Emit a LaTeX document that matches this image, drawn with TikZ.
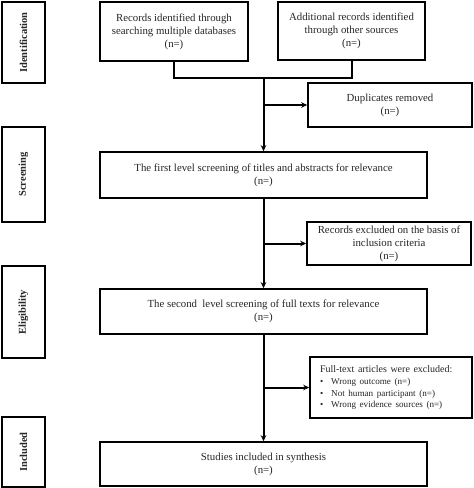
\documentclass[tikz,border=0pt]{standalone}
\usepackage{fontspec}
\setmainfont{Liberation Serif}
\usetikzlibrary{arrows.meta,calc}
\begin{document}
\begin{tikzpicture}[x=1pt,y=-1pt,
  box/.style={draw=black, line width=1.6pt, fill=white, align=center, inner sep=2pt,
    font=\fontsize{10.8}{13}\selectfont, text=black!85},
  side/.style={draw=black, line width=1.6pt, rotate=90, inner sep=0pt,
    font=\fontsize{10.5}{12}\selectfont\bfseries, text=black!85},
  conn/.style={line width=2pt, draw=black},
  arr/.style={conn, -{Stealth[length=6pt,width=5.5pt]}}]
\useasboundingbox (0,0) rectangle (474,488);
% phase labels
\node[side, minimum width=81pt, minimum height=43pt] (sid) at (23.5,42.5) {Identification};
\node[side, minimum width=95pt, minimum height=43pt] (sscr) at (23.5,174.5) {Screening};
\node[side, minimum width=92pt, minimum height=43pt] (selig) at (23.5,312) {Eligibility};
\node[side, minimum width=70pt, minimum height=43pt] (sinc) at (23.5,452) {Included};
% main boxes
\node[box, minimum width=148pt, minimum height=59pt] (b1) at (174,31.5) {Records identified through\\searching multiple databases\\(n=)};
\node[box, minimum width=147pt, minimum height=58pt] (b2) at (351.5,31) {Additional records identified\\through other sources\\(n=)};
\node[box, minimum width=164pt, minimum height=44pt] (dup) at (390,105) {Duplicates removed\\(n=)};
\node[box, minimum width=327pt, minimum height=46pt] (b3) at (263.5,175) {The first level screening of titles and abstracts for relevance\\(n=)};
\node[box, minimum width=164pt, minimum height=43pt] (ex1) at (389,243.5) {Records excluded on the basis of\\inclusion criteria\\(n=)};
\node[box, minimum width=327pt, minimum height=45pt] (b4) at (263.5,311.5) {The second\ \ level screening of full texts for relevance\\(n=)};
\node[box, minimum height=61pt, text width=142pt, align=left, inner xsep=10pt, inner ysep=0pt] (ex2) at (391,387.5) {%
  \begin{tabular}{@{}l@{\hspace{8pt}}l@{}}
  \multicolumn{2}{@{}l@{}}{\fontsize{10}{11}\selectfont Full-text articles were excluded:}\\[-1pt]
  \fontsize{9.1}{10.5}\selectfont\textbullet & \fontsize{9.1}{10.5}\selectfont Wrong outcome (n=)\\[-1.6pt]
  \fontsize{9.1}{10.5}\selectfont\textbullet & \fontsize{9.1}{10.5}\selectfont Not human participant (n=)\\[-1.6pt]
  \fontsize{9.1}{10.5}\selectfont\textbullet & \fontsize{9.1}{10.5}\selectfont Wrong evidence sources (n=)
  \end{tabular}};
\node[box, minimum width=327pt, minimum height=44pt] (b5) at (263.5,464) {Studies included in synthesis\\(n=)};
% connectors
\coordinate (j1) at ($(b1.south)+(0,16)$);
\coordinate (jm) at (b3.north |- j1);
\draw[conn] (b1.south) -- (j1) -- (j1 -| b2.south) -- (b2.south);
\draw[arr] (jm) -- (b3.north);
\draw[arr] (jm |- dup.west) -- (dup.west);
\draw[arr] (b3.south) -- (b4.north);
\draw[arr] (b3.south |- ex1.west) -- (ex1.west);
\draw[arr] (b4.south) -- (b5.north);
\draw[arr] (b4.south |- ex2.west) -- (ex2.west);
\end{tikzpicture}
\end{document}
